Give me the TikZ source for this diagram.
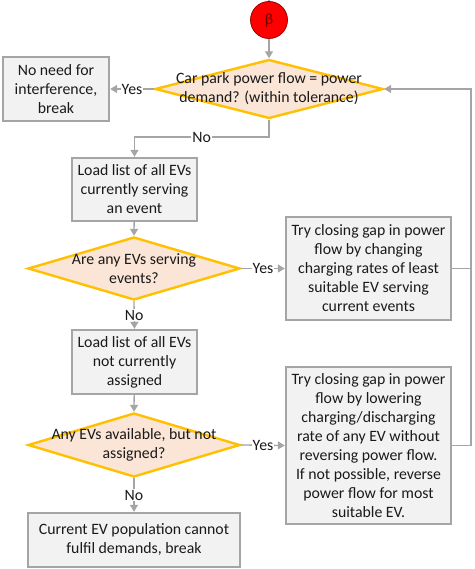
\documentclass[tikz,border=0pt]{standalone}
\usepackage{fontspec}
\setmainfont{Carlito}
\usetikzlibrary{arrows.meta,calc,shapes.geometric}
\definecolor{boxGray}{HTML}{A5A5A5}
\definecolor{boxFill}{HTML}{F2F2F2}
\definecolor{gateGold}{HTML}{FFC000}
\definecolor{gateFill}{HTML}{FBE5D6}
\definecolor{lineGray}{HTML}{A5A5A5}
\definecolor{startRed}{HTML}{FF0000}
\definecolor{startRim}{HTML}{9C0000}
\definecolor{inkDark}{HTML}{1A1A1A}

\begin{document}
\begin{tikzpicture}[x=1pt,y=-1pt,
  every node/.style={font=\fontsize{15.8}{19}\selectfont,align=center,text=inkDark},
  box/.style={draw=boxGray,line width=2.4pt,fill=boxFill,inner sep=0pt},
  gate/.style={diamond,draw=gateGold,line width=2.4pt,fill=gateFill,inner sep=0pt},
  ln/.style={lineGray,line width=1.3pt},
  arr/.style={ln,-{Triangle[length=7pt,width=8pt]}},
  lbl/.style={fill=white,inner sep=1pt,text=inkDark}]
\useasboundingbox (0,0) rectangle (474,569);
\node[circle,draw=startRim,fill=startRed,minimum size=37pt,inner sep=0pt,line width=0.8pt,text=startRim!70!black] (start) at (269,20) {β};
\coordinate (entry) at (269,0);
\draw[ln] (entry) -- (start.north);

\node[gate,minimum width=228pt,minimum height=59pt] (d1) at (269,89) {};
\node (d1t) at (d1) {Car park power flow = power\\demand? (within tolerance)};
\node[box,minimum width=106pt,minimum height=64pt] (b0) at (56,89) {No need for\\interference,\\break};

\node[box,minimum width=125pt,minimum height=63pt] (b1) at (134.5,189.5) {Load list of all EVs\\currently serving\\an event};
\node[gate,minimum width=212pt,minimum height=63pt] (d2) at (134,268.5) {};
\node (d2t) at (d2) {Are any EVs serving\\events?};
\node[box,minimum width=165pt,minimum height=103pt] (b3) at (368.5,268.5) {Try closing gap in power\\flow by changing\\charging rates of least\\suitable EV serving\\current events};

\node[box,minimum width=125pt,minimum height=64pt] (b2) at (134.5,362) {Load list of all EVs\\not currently\\assigned};
\node[gate,minimum width=212pt,minimum height=64pt] (d3) at (134,445) {};
\node (d3t) at (d3) {Any EVs available, but not\\assigned?};
\node[box,minimum width=165pt,minimum height=157pt] (b4) at (368.5,445.5) {Try closing gap in power\\flow by lowering\\charging/discharging\\rate of any EV without\\reversing power flow.\\If not possible, reverse\\power flow for most\\suitable EV.};

\node[box,minimum width=212pt,minimum height=54pt] (b5) at (134,540) {Current EV population cannot\\fulfil demands, break};

\coordinate (bend) at (269,137);
\coordinate (ret) at (471,89);

\draw[arr] (start) -- (d1.north);
\draw[arr] (d1.west) -- node[lbl]{Yes} (b0.east);
\draw[arr] (d1.south) -- (bend) -| node[lbl,pos=0.25]{No} (b1.north);
\draw[arr] (b1) -- (d2.north);
\draw[arr] (d2.east) -- node[lbl]{Yes} (b3.west);
\draw[arr] (d2.south) -- node[lbl]{No} (b2.north);
\draw[arr] (b2) -- (d3.north);
\draw[arr] (d3.east) -- node[lbl]{Yes} (b4.west);
\draw[arr] (d3.south) -- node[lbl]{No} (b5.north);
\draw[arr] (b4.east) -| (ret) -- (d1.east);
\draw[ln] (b3.east) -- (b3.east -| ret);
\end{tikzpicture}
\end{document}
